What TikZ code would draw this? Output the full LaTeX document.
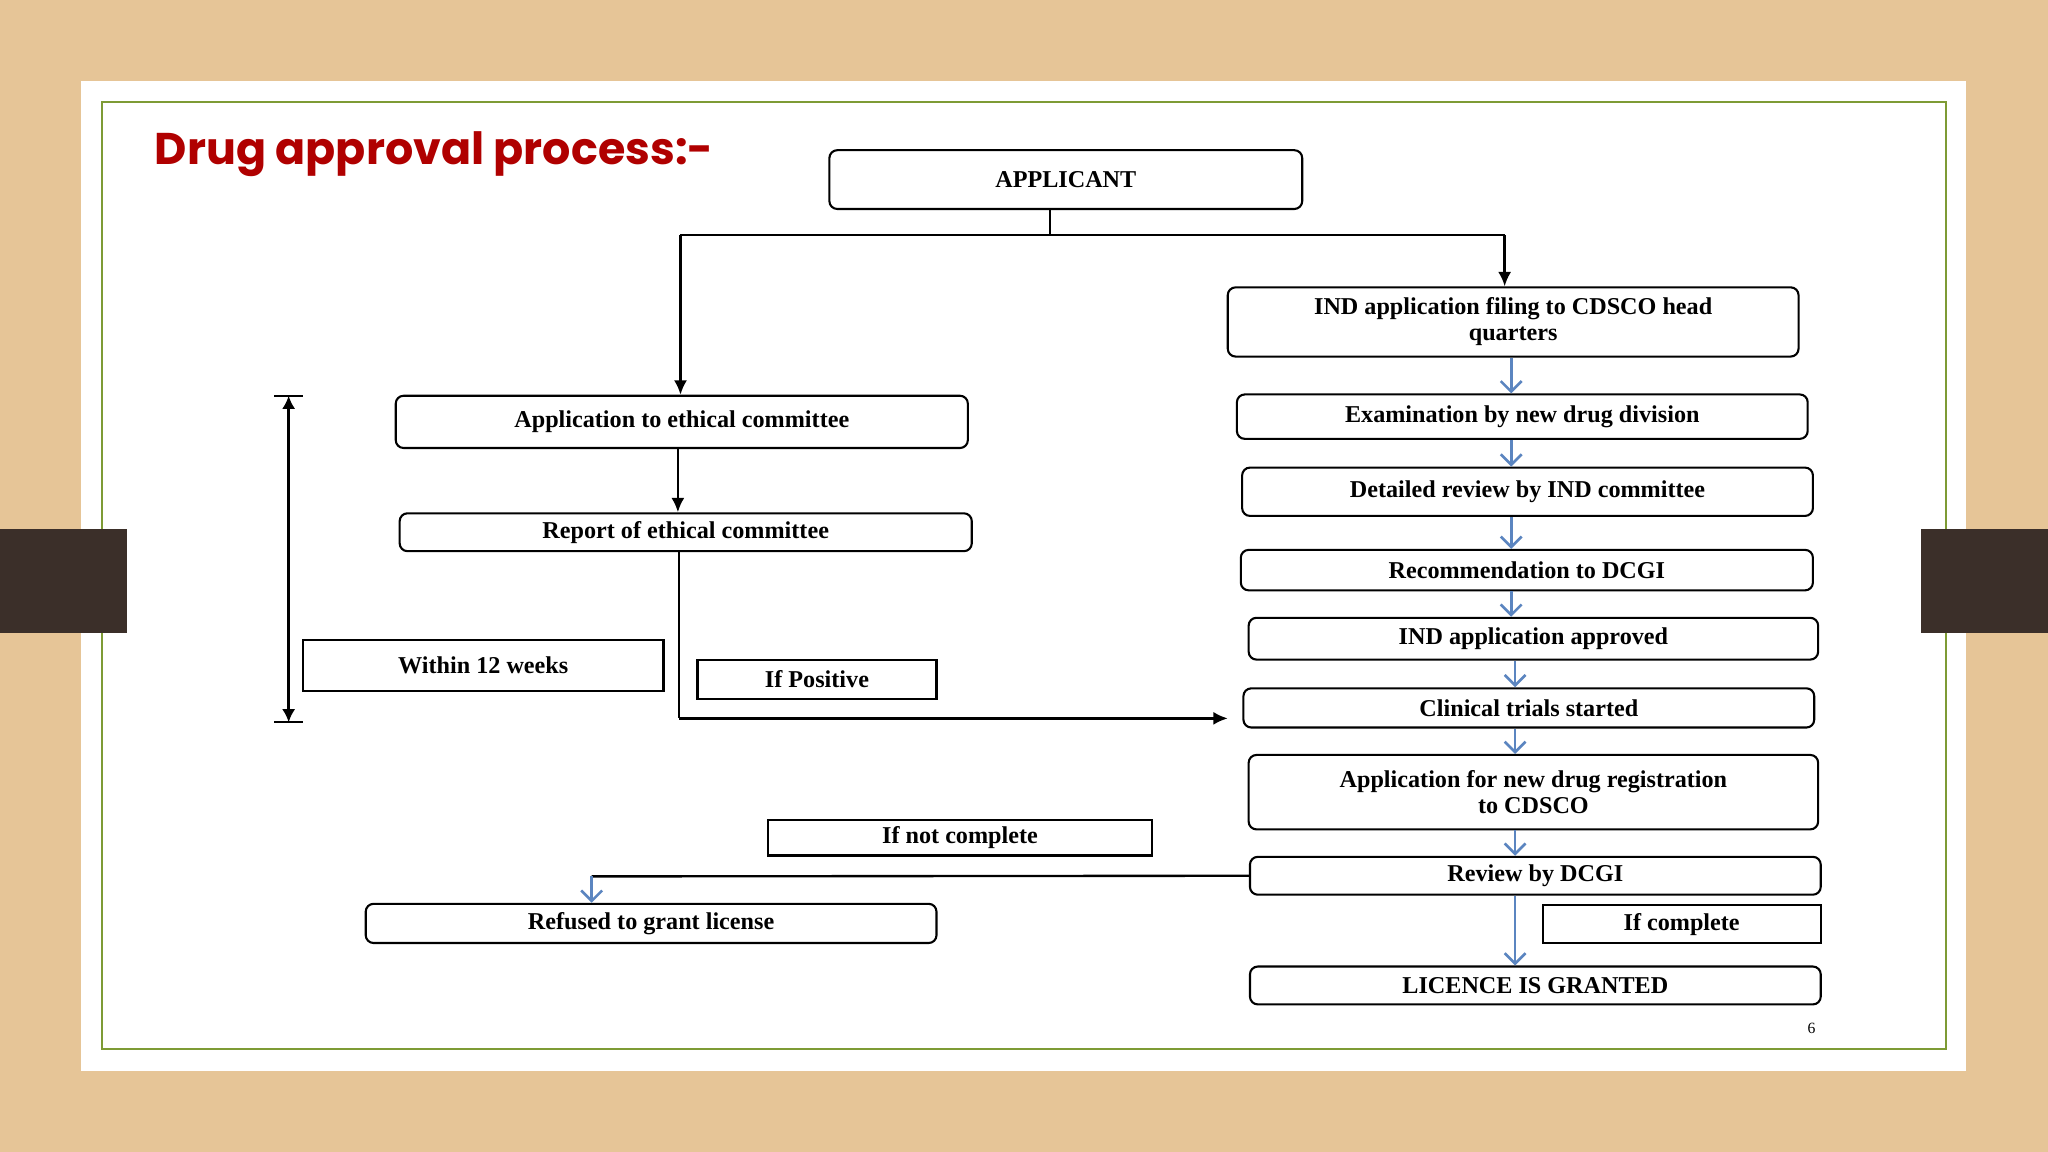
\documentclass[tikz,border=0pt]{standalone}
\usepackage{fontspec}
\setmainfont{Liberation Serif}
\newfontfamily\titlefont{Poppins}
\usetikzlibrary{arrows.meta}
\definecolor{wood}{HTML}{E6C597}
\definecolor{frame}{HTML}{7E9B35}
\definecolor{tab}{HTML}{3B2F29}
\definecolor{ttl}{HTML}{B00000}
\definecolor{barrow}{HTML}{5B85C0}
\tikzset{
 rbox/.style={draw,line width=1.6pt,rounded corners=6pt,inner sep=0pt,font=\fontsize{18.5}{20}\selectfont\bfseries,align=center},
 sbox/.style={draw,line width=1.6pt,inner sep=0pt,font=\fontsize{18.5}{20}\selectfont\bfseries,align=center},
 blk/.style={line width=1.8pt,-{Latex[length=11pt,width=10pt]}},
 blu/.style={barrow,line width=2pt,-{Straight Barb[length=8pt,width=16pt]}}
}
\begin{document}
\begin{tikzpicture}[x=1pt,y=-1pt]
\fill[wood] (0,0) rectangle (1568,882);
\fill[white] (62,62) rectangle (1505,820);
\draw[frame,line width=1.8pt] (78,78) rectangle (1490,803);
\fill[tab] (0,405) rectangle (97,485);
\fill[tab] (1471,405) rectangle (1568,485);
\node[anchor=west,text=ttl,font=\titlefont\fontsize{34}{38}\selectfont\bfseries] (title) at (115,118) {Drug approval process:-};
\node[font=\fontsize{12}{13}\selectfont] (pg) at (1387,787) {6};

\node[rbox,minimum width=362pt,minimum height=45pt] (app) at (816,137.5) {APPLICANT};
\node[rbox,minimum width=437pt,minimum height=53pt] (ind) at (1158.5,246.5) {IND application filing to CDSCO head\\quarters};
\node[rbox,minimum width=437pt,minimum height=34pt] (exam) at (1165.5,319) {Examination by new drug division};
\node[rbox,minimum width=437pt,minimum height=37pt] (det) at (1169.5,376.5) {Detailed review by IND committee};
\node[rbox,minimum width=438pt,minimum height=31pt] (rec) at (1169,436.5) {Recommendation to DCGI};
\node[rbox,minimum width=436pt,minimum height=32pt] (appr) at (1174,489) {IND application approved};
\node[rbox,minimum width=437pt,minimum height=30pt] (clin) at (1170.5,542) {Clinical trials started};
\node[rbox,minimum width=436pt,minimum height=57pt] (newd) at (1174,606.5) {Application for new drug registration\\to CDSCO};
\node[rbox,minimum width=437pt,minimum height=29pt] (rev) at (1175.5,670.5) {Review by DCGI};
\node[rbox,minimum width=437pt,minimum height=29pt] (lic) at (1175.5,754.5) {LICENCE IS GRANTED};
\node[sbox,minimum width=213pt,minimum height=29pt] (ifc) at (1287.5,707.5) {If complete};
\node[sbox,minimum width=294pt,minimum height=27pt] (ifn) at (735,641.5) {If not complete};
\node[rbox,minimum width=437pt,minimum height=30pt] (ref) at (498.5,707) {Refused to grant license};
\node[rbox,minimum width=438pt,minimum height=40pt] (eth) at (522,323) {Application to ethical committee};
\node[rbox,minimum width=438pt,minimum height=29pt] (rep) at (525,407.5) {Report of ethical committee};
\node[sbox,minimum width=276pt,minimum height=39pt] (wk) at (370,509.5) {Within 12 weeks};
\node[sbox,minimum width=183pt,minimum height=30pt] (pos) at (625.5,520) {If Positive};

\coordinate (j) at (804,180);
\coordinate (jl) at (521,180);
\coordinate (jr) at (1152,180);
\draw[line width=1.8pt] (app.south -| j) -- (j);
\draw[blk] (jl) -- (jl |- eth.north);
\draw[line width=1.8pt] (jl) -- (jr);
\draw[blk] (jr) -- (jr |- ind.north);
\coordinate (ex) at (519,0);
\draw[blk] (eth.south -| ex) -- (rep.north -| ex);
\coordinate (rx) at (520,550);
\draw[line width=1.8pt] (rep.south -| rx) -- (rx);
\coordinate (pe) at (940,550);
\draw[blk] (rx) -- (pe);
\coordinate (t1) at (221,303);
\coordinate (t2) at (221,553);
\draw[line width=1.8pt,{Latex[length=10pt,width=10pt]}-{Latex[length=10pt,width=10pt]}] (t1) -- (t2);
\draw[line width=1.8pt] ([xshift=-11pt]t1) -- ([xshift=11pt]t1);
\draw[line width=1.8pt] ([xshift=-11pt]t2) -- ([xshift=11pt]t2);

\coordinate (bx) at (1157,0);
\draw[blu] (ind.south -| bx) -- (exam.north -| bx);
\draw[blu] (exam.south -| bx) -- (det.north -| bx);
\draw[blu] (det.south -| bx) -- (rec.north -| bx);
\draw[blu] (rec.south -| bx) -- (appr.north -| bx);
\coordinate (bx2) at (1160,0);
\draw[blu] (appr.south -| bx2) -- (clin.north -| bx2);
\draw[blu] (clin.south -| bx2) -- (newd.north -| bx2);
\draw[blu] (newd.south -| bx2) -- (rev.north -| bx2);
\draw[blu] (rev.south -| bx2) -- (lic.north -| bx2);
\coordinate (lx) at (453,671);
\draw[line width=1.8pt] (rev.west) -- (lx);
\draw[blu] (lx) -- (lx |- ref.north);
\end{tikzpicture}
\end{document}
